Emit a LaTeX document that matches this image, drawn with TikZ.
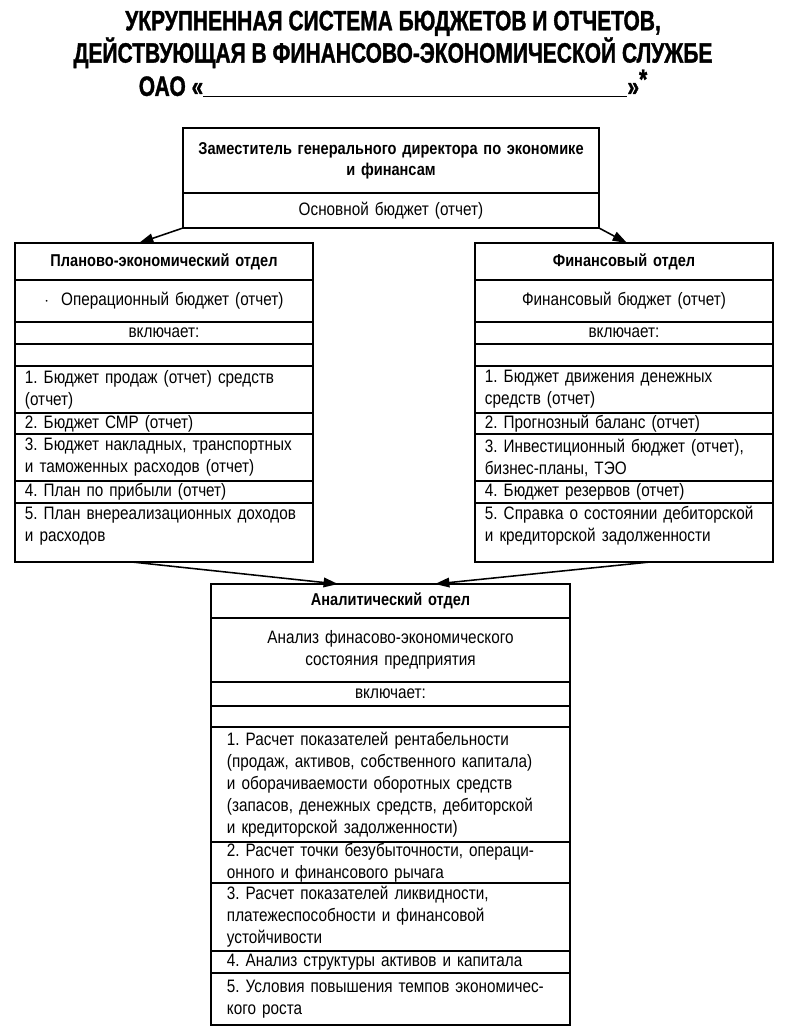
\documentclass[tikz,border=0pt]{standalone}
\usepackage{fontspec}
\setmainfont[FakeStretch=0.85]{Liberation Sans}
\newfontfamily\ttlfont[FakeStretch=0.75, FakeBold=1.2]{Liberation Sans}
\usetikzlibrary{arrows.meta,positioning}
\frenchspacing
\newcommand\bodyfont{\fontsize{12.8}{15.65}\selectfont}
\newcommand\headfont{\bfseries\fontsize{12.2}{15}\selectfont}
\newcommand\lowgap{\rule[-12pt]{0pt}{0pt}}
\tikzset{
  sb/.style={x=.025cm, y=-.025cm, line width=1.1pt, >={Triangle[length=3.6mm, width=2.4mm]}},
  cell/.style={draw=black, outer sep=0pt, inner xsep=.25cm, inner ysep=0pt, anchor=north, align=center, font=\bodyfont},
  item/.style={cell, align=left},
  head/.style={cell, font=\headfont},
  hgt/.style={minimum height=#1*.025cm},
  side/.style={text width=6.95cm},
  wide/.style={inner xsep=.4cm, text width=8.175cm},
  top/.style={text width=9.9cm},
  link/.style={->, line width=1.1pt},
}

\begin{document}
\begin{tikzpicture}[sb]
\useasboundingbox (0,0) rectangle (788,1035);

% title
\node[align=center, font=\ttlfont\bfseries\fontsize{19.9}{21.3}\selectfont] (ttl) at (393,54)
  {УКРУПНЕННАЯ СИСТЕМА БЮДЖЕТОВ И ОТЧЕТОВ,\\
   ДЕЙСТВУЮЩАЯ В ФИНАНСОВО-ЭКОНОМИЧЕСКОЙ СЛУЖБЕ\\
   ОАО «\rule[-1pt]{10.6cm}{.7pt}»\raisebox{5pt}{*}};

% deputy director
\node[head, top, hgt=65] (zg) at (391,128) {Заместитель генерального директора по экономике\\и финансам};
\node[cell, top, hgt=35, below=0pt of zg] (zg1) {Основной бюджет (отчет)};

% planning and economic department
\node[head, side, hgt=37] (pe) at (164,243) {Планово-экономический отдел};
\node[cell, side, hgt=42, below=0pt of pe] (pe1) {$\cdot$\ \ Операционный бюджет (отчет)};
\node[cell, side, hgt=22, below=0pt of pe1] (pe2) {включает:};
\node[cell, side, hgt=22, below=0pt of pe2] (pe3) {};
\node[item, side, hgt=47, below=0pt of pe3] (pe4) {1. Бюджет продаж (отчет) средств\\(отчет)};
\node[item, side, hgt=21, below=0pt of pe4] (pe5) {2. Бюджет СМР (отчет)};
\node[item, side, hgt=47, below=0pt of pe5] (pe6) {3. Бюджет накладных, транспортных\\и таможенных расходов (отчет)};
\node[item, side, hgt=22, below=0pt of pe6] (pe7) {4. План по прибыли (отчет)};
\node[item, side, hgt=59, below=0pt of pe7] (pe8) {5. План внереализационных доходов\\и расходов\lowgap};

% financial department
\node[head, side, hgt=37] (fo) at (624,243) {Финансовый отдел};
\node[cell, side, hgt=42, below=0pt of fo] (fo1) {Финансовый бюджет (отчет)};
\node[cell, side, hgt=22, below=0pt of fo1] (fo2) {включает:};
\node[cell, side, hgt=22, below=0pt of fo2] (fo3) {};
\node[item, side, hgt=47, below=0pt of fo3] (fo4) {1. Бюджет движения денежных\\средств (отчет)};
\node[item, side, hgt=21, below=0pt of fo4] (fo5) {2. Прогнозный баланс (отчет)};
\node[item, side, hgt=47, below=0pt of fo5] (fo6) {3. Инвестиционный бюджет (отчет),\\бизнес-планы, ТЭО};
\node[item, side, hgt=22, below=0pt of fo6] (fo7) {4. Бюджет резервов (отчет)};
\node[item, side, hgt=59, below=0pt of fo7] (fo8) {5. Справка о состоянии дебиторской\\и кредиторской задолженности\lowgap};

% analytical department
\node[head, wide, hgt=34] (an) at (390.5,584) {Аналитический отдел};
\node[cell, wide, hgt=64, below=0pt of an] (an1) {Анализ финасово-экономического\\состояния предприятия};
\node[cell, wide, hgt=24, below=0pt of an1] (an2) {включает:};
\node[cell, wide, hgt=21, below=0pt of an2] (an3) {};
\node[item, wide, hgt=115, below=0pt of an3] (an4) {1. Расчет показателей рентабельности\\(продаж, активов, собственного капитала)\\и оборачиваемости оборотных средств\\(запасов, денежных средств, дебиторской\\и кредиторской задолженности)};
\node[item, wide, hgt=41, below=0pt of an4] (an5) {2. Расчет точки безубыточности, операци-\\онного и финансового рычага};
\node[item, wide, hgt=68, below=0pt of an5] (an6) {3. Расчет показателей ликвидности,\\платежеспособности и финансовой\\устойчивости};
\node[item, wide, hgt=22, below=0pt of an6] (an7) {4. Анализ структуры активов и капитала};
\node[item, wide, hgt=52, below=0pt of an7] (an8) {5. Условия повышения темпов экономичес-\\кого роста};

% arrows
\draw[link] (zg1.south west) -- ([xshift=3.1cm]pe.north west);
\draw[link] (zg1.south east) -- ([xshift=3.8cm]fo.north west);
\draw[link] ([xshift=2.925cm]pe8.south west) -- ([xshift=3.175cm]an.north west);
\draw[link] ([xshift=-3.075cm]fo8.south east) -- ([xshift=-3.375cm]an.north east);
\end{tikzpicture}
\end{document}
